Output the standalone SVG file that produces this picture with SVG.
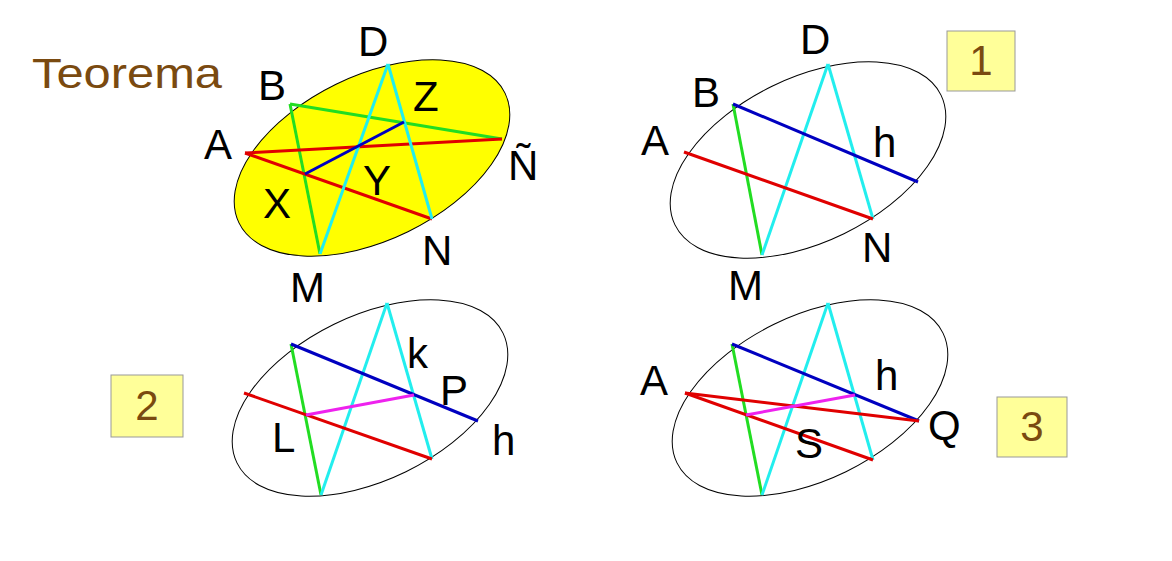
<svg xmlns="http://www.w3.org/2000/svg" width="1172" height="561" viewBox="0 0 1172 561">
<style>
.e{fill:none;stroke:#000;stroke-width:1}
line{stroke-width:3}
.r{stroke:#e00000}.g{stroke:#22dd22}.c{stroke:#22eeee}.b{stroke:#0000c0}.m{stroke:#ee22ee}
text{font-family:"Liberation Sans",Arial,sans-serif;font-size:42px;fill:#000}
.br{fill:#7a4a10}
.box{fill:#ffff99;stroke:#999;stroke-width:1}
</style>
<rect width="1172" height="561" fill="#fff"/>
<g id="fig-theorem">
<ellipse cx="372" cy="158" rx="148" ry="82" transform="rotate(-26 372 158)" fill="#ffff00" stroke="#000"/>
<text x="32" y="88" class="br" textLength="190" lengthAdjust="spacingAndGlyphs">Teorema</text>
</g>
<g id="fig1"><ellipse class="e" cx="808" cy="160" rx="148" ry="82" transform="rotate(-26 808 160)"/></g>
<g id="fig2"><ellipse class="e" cx="370" cy="398" rx="148" ry="82" transform="rotate(-26 370 398)"/></g>
<g id="fig3"><ellipse class="e" cx="810" cy="398" rx="148" ry="82" transform="rotate(-26 810 398)"/></g>
<g id="connectors">
<line class="g" x1="290" y1="104" x2="502" y2="139"/>
<line class="g" x1="290" y1="104" x2="320" y2="254"/>
<line class="r" x1="245" y1="153" x2="502" y2="139"/>
<line class="r" x1="245" y1="153" x2="432" y2="219"/>
<line class="c" x1="388" y1="64" x2="320" y2="254"/>
<line class="c" x1="388" y1="64" x2="432" y2="219"/>
<line class="b" x1="305" y1="174" x2="404" y2="122"/>

<line class="g" x1="733" y1="104" x2="762" y2="255"/>
<line class="c" x1="828" y1="64" x2="762" y2="255"/>
<line class="c" x1="828" y1="64" x2="873" y2="219"/>
<line class="b" x1="733" y1="104" x2="918" y2="182"/>
<line class="r" x1="684" y1="152" x2="873" y2="219"/>

<line class="g" x1="291" y1="344" x2="321" y2="495"/>
<line class="c" x1="387" y1="303" x2="321" y2="495"/>
<line class="c" x1="387" y1="303" x2="432" y2="459"/>
<line class="b" x1="291" y1="344" x2="478" y2="421"/>
<line class="r" x1="244" y1="393" x2="432" y2="459"/>
<line class="m" x1="306" y1="415" x2="414" y2="395"/>

<line class="g" x1="732" y1="344" x2="762" y2="495"/>
<line class="c" x1="828" y1="303" x2="762" y2="495"/>
<line class="c" x1="828" y1="303" x2="873" y2="460"/>
<line class="b" x1="732" y1="344" x2="919" y2="421"/>
<line class="r" x1="685" y1="393" x2="873" y2="460"/>
<line class="r" x1="685" y1="393" x2="919" y2="421"/>
<line class="m" x1="746" y1="415" x2="855" y2="395"/>
</g>
<g id="labels">
<text x="358" y="56">D</text><text x="258" y="100">B</text><text x="413" y="111">Z</text>
<text x="204" y="159">A</text><text x="363" y="195">Y</text><text x="263" y="218">X</text>
<text x="508" y="180">Ñ</text><text x="422" y="265">N</text><text x="290" y="302">M</text>

<text x="800" y="54">D</text><text x="692" y="107">B</text><text x="641" y="155">A</text>
<text x="873" y="157">h</text><text x="862" y="262">N</text><text x="728" y="300">M</text>

<text x="407" y="368">k</text><text x="440" y="405">P</text><text x="492" y="455">h</text><text x="272" y="452">L</text>

<text x="640" y="395">A</text><text x="875" y="390">h</text><text x="928" y="440">Q</text><text x="795" y="458">S</text>
</g>
<g id="box1"><rect class="box" x="947" y="31" width="68" height="60"/><text class="br" x="981" y="75" text-anchor="middle">1</text></g>
<g id="box2"><rect class="box" x="111" y="375" width="72" height="62"/><text class="br" x="147" y="420" text-anchor="middle">2</text></g>
<g id="box3"><rect class="box" x="997" y="397" width="70" height="60"/><text class="br" x="1032" y="441" text-anchor="middle">3</text></g>
</svg>
